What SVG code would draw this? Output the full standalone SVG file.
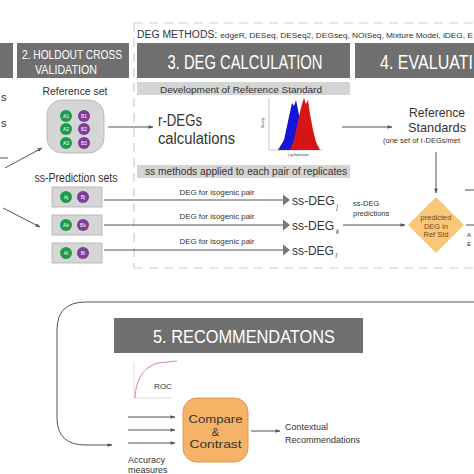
<svg xmlns="http://www.w3.org/2000/svg" width="474" height="474" viewBox="0 0 474 474">
<defs>
<style>
text{font-family:"Liberation Sans","Open Sans",sans-serif;fill:#333}
.hdr{fill:#6f6f6f}
.sub{fill:#d4d4d4}
.ht{fill:#fff}
.ln{stroke:#555;stroke-width:1;fill:none}
.dash{stroke:#cfcfcf;stroke-width:1.2;stroke-dasharray:9,6;fill:none}
.ca{fill:#1d9a4c}
.cb{fill:#7e3b98}
.ct{fill:#fff;font-size:5px;text-anchor:middle}
.bx{fill:#d6d6d6;stroke:#b0b0b0;stroke-width:0.8}
.sb{font-size:7px;font-style:italic}
</style>
<marker id="ah" viewBox="0 0 6 6" refX="5.5" refY="3" markerWidth="5" markerHeight="5" orient="auto" markerUnits="userSpaceOnUse">
<path d="M0,0.8 L6,3 L0,5.2z" fill="#555"/>
</marker>
</defs>

<!-- dashed frame -->
<g id="frame">
<path class="dash" d="M134,23 H474"/>
<path class="dash" d="M134,23 V268"/>
<path class="dash" d="M134,268 H474"/>
</g>

<text x="137" y="38" font-size="10" textLength="336" lengthAdjust="spacingAndGlyphs">DEG METHODS: <tspan font-size="8">edgeR, DESeq, DESeq2, DEGseq, NOISeq, Mixture Model, iDEG, E</tspan></text>

<!-- headers -->
<g id="header1"><rect class="hdr" x="0" y="43" width="13" height="35"/></g>
<g id="header2">
<rect class="hdr" x="17" y="43" width="112" height="35"/>
<text class="ht" x="72" y="59" font-size="13" text-anchor="middle" textLength="100" lengthAdjust="spacingAndGlyphs">2. HOLDOUT CROSS</text>
<text class="ht" x="66" y="74" font-size="13" text-anchor="middle" textLength="62" lengthAdjust="spacingAndGlyphs">VALIDATION</text>
</g>
<g id="header3">
<rect class="hdr" x="137" y="43" width="213" height="35"/>
<text class="ht" x="245" y="69" font-size="20" text-anchor="middle" textLength="155" lengthAdjust="spacingAndGlyphs">3. DEG CALCULATION</text>
</g>
<g id="header4">
<rect class="hdr" x="355" y="43" width="119" height="35"/>
<text class="ht" x="380" y="69" font-size="20" textLength="93" lengthAdjust="spacingAndGlyphs">4. EVALUATI</text>
</g>

<g id="refstd-bar">
<rect class="sub" x="137" y="82" width="213" height="13"/>
<text x="241" y="92.5" font-size="9.5" text-anchor="middle" textLength="162" lengthAdjust="spacingAndGlyphs">Development of Reference Standard</text>
</g>
<g id="ss-bar">
<rect class="sub" x="137" y="165" width="213" height="13"/>
<text x="246" y="175" font-size="10" text-anchor="middle" textLength="202" lengthAdjust="spacingAndGlyphs">ss methods applied to each pair of replicates</text>
</g>

<!-- left fragments -->
<g id="left-fragments">
<text x="1" y="101" font-size="11">s</text>
<text x="1" y="127" font-size="11">s</text>
</g>

<!-- reference set -->
<g id="reference-set">
<text x="75" y="95" font-size="11.5" text-anchor="middle" textLength="65" lengthAdjust="spacingAndGlyphs">Reference set</text>
<rect class="bx" x="47" y="100" width="57" height="53" rx="15"/>
<circle class="ca" cx="66" cy="116" r="6"/><text class="ct" x="66" y="118">A1</text>
<circle class="ca" cx="66" cy="129" r="6"/><text class="ct" x="66" y="131">A2</text>
<circle class="ca" cx="66" cy="143" r="6"/><text class="ct" x="66" y="145">A3</text>
<circle class="cb" cx="84" cy="116" r="6"/><text class="ct" x="84" y="118">B1</text>
<circle class="cb" cx="84" cy="129" r="6"/><text class="ct" x="84" y="131">B2</text>
<circle class="cb" cx="84" cy="143" r="6"/><text class="ct" x="84" y="145">B3</text>
</g>

<!-- ss prediction sets -->
<g id="ss-prediction-sets">
<text x="76" y="182" font-size="12" text-anchor="middle" textLength="83" lengthAdjust="spacingAndGlyphs">ss-Prediction sets</text>
</g>
<g id="pair-j">
<rect class="bx" x="52" y="187" width="50" height="20"/>
<circle class="ca" cx="66" cy="197" r="6"/><text class="ct" x="66" y="199">Aj</text>
<circle class="cb" cx="83" cy="197" r="6"/><text class="ct" x="83" y="199">Bj</text>
</g>
<g id="pair-k">
<rect class="bx" x="52" y="215" width="50" height="20"/>
<circle class="ca" cx="66" cy="225" r="6"/><text class="ct" x="66" y="227">Ak</text>
<circle class="cb" cx="83" cy="225" r="6"/><text class="ct" x="83" y="227">Bk</text>
</g>
<g id="pair-l">
<rect class="bx" x="52" y="243" width="50" height="20"/>
<circle class="ca" cx="66" cy="253" r="6"/><text class="ct" x="66" y="255">Al</text>
<circle class="cb" cx="83" cy="253" r="6"/><text class="ct" x="83" y="255">Bl</text>
</g>

<!-- r-DEGs -->
<g id="r-degs">
<text x="158" y="126" font-size="16" textLength="44" lengthAdjust="spacingAndGlyphs">r-DEGs</text>
<text x="158" y="144" font-size="16" textLength="77" lengthAdjust="spacingAndGlyphs">calculations</text>
</g>

<!-- histogram -->
<g id="histogram">
<path d="M269,98 V150 H322" stroke="#888" stroke-width="0.5" fill="none"/>
<path d="M278,150 L284,140 L287,126 L290,112 L292,103 L294,106 L296,100 L298,110 L300,120 L302,132 L305,145 L308,150Z" fill="#1515d8"/>
<path d="M290,150 L294,140 L297,126 L300,112 L302,104 L304,98 L306,104 L308,100 L310,114 L313,130 L316,142 L320,150Z" fill="#d81515"/>
<text x="264" y="128" font-size="3" transform="rotate(-90 264 128)">Density</text>
<text x="288" y="156" font-size="3">Log Expression</text>
</g>

<!-- reference standards -->
<g id="reference-standards">
<text x="437" y="117" font-size="13" text-anchor="middle" textLength="56" lengthAdjust="spacingAndGlyphs">Reference</text>
<text x="437" y="132" font-size="13" text-anchor="middle" textLength="58" lengthAdjust="spacingAndGlyphs">Standards</text>
<text x="383" y="143" font-size="7.5">(one set of r-DEGs/met</text>
</g>

<!-- ss-DEG outputs -->
<g id="ss-deg-j"><text x="292" y="205" font-size="13.5" textLength="46" lengthAdjust="spacingAndGlyphs">ss-DEG<tspan class="sb" dx="2" dy="4">j</tspan></text></g>
<g id="ss-deg-k"><text x="292" y="230" font-size="13.5" textLength="47" lengthAdjust="spacingAndGlyphs">ss-DEG<tspan class="sb" dx="2" dy="4">k</tspan></text></g>
<g id="ss-deg-l"><text x="292" y="255" font-size="13.5" textLength="45" lengthAdjust="spacingAndGlyphs">ss-DEG<tspan class="sb" dx="2" dy="3">l</tspan></text></g>

<g id="ss-deg-predictions">
<text x="353" y="206" font-size="7.5">ss-DEG</text>
<text x="353" y="216" font-size="7.5">predictions</text>
</g>

<!-- diamond -->
<g id="predicted-deg">
<path d="M436,197 L464,225 L436,253 L408,225Z" fill="#f8c77a"/>
<text x="436" y="220" font-size="7.5" text-anchor="middle" style="fill:#7a4a12">predicted</text>
<text x="436" y="228.5" font-size="7.5" text-anchor="middle" style="fill:#7a4a12">DEG in</text>
<text x="436" y="237" font-size="7.5" text-anchor="middle" style="fill:#7a4a12">Ref Std</text>
</g>
<text x="467" y="237" font-size="6">A</text>
<text x="467" y="246" font-size="6">E</text>

<!-- step 5 -->
<g id="header5">
<rect class="hdr" x="114" y="318" width="249" height="35"/>
<text class="ht" x="244" y="343" font-size="19" text-anchor="middle" textLength="182" lengthAdjust="spacingAndGlyphs">5. RECOMMENDATONS</text>
</g>

<g id="roc">
<path d="M134,362 V398 H172" stroke="#bbb" stroke-width="0.5" fill="none"/>
<path d="M135,398 C136,380 142,368 158,363 L177,361" stroke="#d06a6a" stroke-width="0.8" fill="none"/>
<text x="163" y="389" font-size="8" text-anchor="middle">ROC</text>
</g>

<g id="accuracy">
<text x="128" y="463" font-size="9">Accuracy</text>
<text x="128" y="473" font-size="9">measures</text>
</g>

<g id="compare-contrast">
<rect x="183" y="398" width="65" height="64" rx="14" fill="#f4b366" stroke="#dd9a4e" stroke-width="1"/>
<text x="215.5" y="423" font-size="11" text-anchor="middle" textLength="54" lengthAdjust="spacingAndGlyphs">Compare</text>
<text x="215.5" y="435.5" font-size="11" text-anchor="middle">&amp;</text>
<text x="215.5" y="448" font-size="11" text-anchor="middle" textLength="52" lengthAdjust="spacingAndGlyphs">Contrast</text>
</g>

<g id="contextual">
<text x="285" y="430" font-size="9">Contextual</text>
<text x="285" y="443" font-size="9" textLength="75" lengthAdjust="spacingAndGlyphs">Recommendations</text>
</g>

<!-- connectors -->
<g id="connectors">
<path class="ln" d="M0,158 H8"/>
<path class="ln" d="M5,168 L42,148" marker-end="url(#ah)"/>
<path class="ln" d="M3,208 L40,227" marker-end="url(#ah)"/>
<path class="ln" d="M108,127 H153" marker-end="url(#ah)"/>
<path class="ln" d="M342,127 H392" marker-end="url(#ah)"/>
<path class="ln" d="M436,152 V193" marker-end="url(#ah)"/>
<path class="ln" d="M104,200 H283"/>
<path class="ln" d="M104,225 H283"/>
<path class="ln" d="M104,250 H283"/>
<path d="M283,194.5 L290,200 L283,205.5Z M283,219.5 L290,225 L283,230.5Z M283,244.5 L290,250 L283,255.5Z" fill="#777"/>
<text x="217" y="195" font-size="7" text-anchor="middle" textLength="75" lengthAdjust="spacingAndGlyphs">DEG for isogenic pair</text>
<text x="217" y="219" font-size="7" text-anchor="middle" textLength="75" lengthAdjust="spacingAndGlyphs">DEG for isogenic pair</text>
<text x="217" y="244" font-size="7" text-anchor="middle" textLength="75" lengthAdjust="spacingAndGlyphs">DEG for isogenic pair</text>
<path class="ln" d="M343,225 H405" marker-end="url(#ah)"/>
<path class="ln" d="M466,225 H474"/>
<path class="ln" d="M465,190 H474" stroke="#aaa"/>
<path class="ln" d="M474,302 H86 Q57,302 57,330 V418 Q57,445 86,445 H112" marker-end="url(#ah)"/>
<path class="ln" d="M128,417 H175" marker-end="url(#ah)"/>
<path class="ln" d="M128,430 H175" marker-end="url(#ah)"/>
<path class="ln" d="M128,443 H175" marker-end="url(#ah)"/>
<path class="ln" d="M251,431 H280" marker-end="url(#ah)"/>
</g>
</svg>
